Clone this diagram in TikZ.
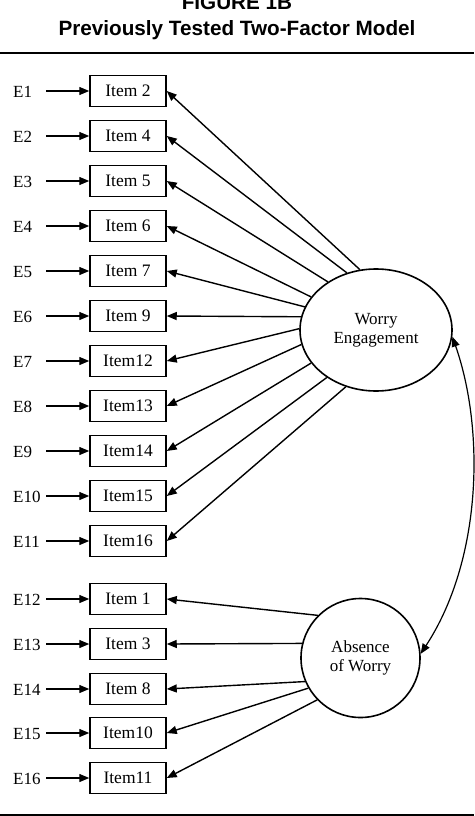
\documentclass[tikz,border=0pt]{standalone}
\usepackage{fontspec}
\setmainfont{Liberation Serif}
\newfontfamily\headfont{Liberation Sans}
\usepgflibrary{arrows.meta}
\usetikzlibrary{shapes.geometric}

\begin{document}
\begin{tikzpicture}[x=1pt,y=-1pt,
        path arrow/.style={
        arrows = {-Triangle[length=10pt,width=8pt]},
        line width=1.4pt
        },
        cov arrow/.style={
        arrows = {Triangle[length=10pt,width=8pt]-Triangle[length=10pt,width=8pt]},
        line width=1.2pt
        },
        item/.style={
                draw,
                line width=1.5pt,
                minimum width=76pt,
                minimum height=31pt,
                inner sep=0pt,
                font=\fontsize{17.5}{20}\selectfont
            },
        err/.style={
                anchor=west,
                inner sep=0pt,
                font=\fontsize{17}{20}\selectfont
            },
        factor/.style={
                draw,
                ellipse,
                line width=1.6pt,
                inner sep=0pt,
                align=center,
                font=\fontsize{17}{19}\selectfont
            }]
        \useasboundingbox (0,0) rectangle (474,816);

        % heading
        \node [anchor=base, font=\headfont\bfseries\fontsize{20.7}{24}\selectfont] (fig) at (237,10) {FIGURE 1B};
        \node [anchor=base, font=\headfont\bfseries\fontsize{20.7}{24}\selectfont] (title) at (237,36) {Previously Tested Two-Factor Model};
        \draw [line width=2.5pt] (0,53) -- (474,53);
        \draw [line width=3pt] (0,815) -- (474,815);

        % observed items
        \node [item] (i2) at (128,91) {Item 2};
        \node [item] (i4) at (128,136) {Item 4};
        \node [item] (i5) at (128,181) {Item 5};
        \node [item] (i6) at (128,226) {Item 6};
        \node [item] (i7) at (128,271) {Item 7};
        \node [item] (i9) at (128,316) {Item 9};
        \node [item] (i12) at (128,361) {Item12};
        \node [item] (i13) at (128,406) {Item13};
        \node [item] (i14) at (128,451) {Item14};
        \node [item] (i15) at (128,496) {Item15};
        \node [item] (i16) at (128,541) {Item16};
        \node [item] (i1) at (128,599) {Item 1};
        \node [item] (i3) at (128,644) {Item 3};
        \node [item] (i8) at (128,689) {Item 8};
        \node [item] (i10) at (128,733) {Item10};
        \node [item] (i11) at (128,778) {Item11};

        % error terms
        \node [err] (e1) at (13,92) {E1};
        \node [err] (e2) at (13,137) {E2};
        \node [err] (e3) at (13,182) {E3};
        \node [err] (e4) at (13,227) {E4};
        \node [err] (e5) at (13,272) {E5};
        \node [err] (e6) at (13,317) {E6};
        \node [err] (e7) at (13,362) {E7};
        \node [err] (e8) at (13,407) {E8};
        \node [err] (e9) at (13,452) {E9};
        \node [err] (e10) at (13,497) {E10};
        \node [err] (e11) at (13,542) {E11};
        \node [err] (e12) at (13,600) {E12};
        \node [err] (e13) at (13,645) {E13};
        \node [err] (e14) at (13,690) {E14};
        \node [err] (e15) at (13,734) {E15};
        \node [err] (e16) at (13,779) {E16};

        \coordinate (s1) at (46,91);
        \coordinate (s2) at (46,136);
        \coordinate (s3) at (46,181);
        \coordinate (s4) at (46,226);
        \coordinate (s5) at (46,271);
        \coordinate (s6) at (46,316);
        \coordinate (s7) at (46,361);
        \coordinate (s8) at (46,406);
        \coordinate (s9) at (46,451);
        \coordinate (s10) at (46,496);
        \coordinate (s11) at (46,541);
        \coordinate (s12) at (46,599);
        \coordinate (s13) at (46,644);
        \coordinate (s14) at (46,689);
        \coordinate (s15) at (46,733);
        \coordinate (s16) at (46,778);

        \draw [path arrow] (s1) -- (i2.west);
        \draw [path arrow] (s2) -- (i4.west);
        \draw [path arrow] (s3) -- (i5.west);
        \draw [path arrow] (s4) -- (i6.west);
        \draw [path arrow] (s5) -- (i7.west);
        \draw [path arrow] (s6) -- (i9.west);
        \draw [path arrow] (s7) -- (i12.west);
        \draw [path arrow] (s8) -- (i13.west);
        \draw [path arrow] (s9) -- (i14.west);
        \draw [path arrow] (s10) -- (i15.west);
        \draw [path arrow] (s11) -- (i16.west);
        \draw [path arrow] (s12) -- (i1.west);
        \draw [path arrow] (s13) -- (i3.west);
        \draw [path arrow] (s14) -- (i8.west);
        \draw [path arrow] (s15) -- (i10.west);
        \draw [path arrow] (s16) -- (i11.west);

        % factors
        \node [factor, minimum width=152pt, minimum height=122pt] (we) at (376,330) {Worry\\Engagement};
        \node [factor, circle, minimum size=119pt] (aw) at (360.5,658) {Absence\\of Worry};

        \draw [path arrow] (we.105) -- (i2.east);
        \draw [path arrow] (we.117) -- (i4.east);
        \draw [path arrow] (we.135) -- (i5.east);
        \draw [path arrow] (we.153) -- (i6.east);
        \draw [path arrow] (we.162) -- (i7.east);
        \draw [path arrow] (we.170) -- (i9.east);
        \draw [path arrow] (we.179) -- (i12.east);
        \draw [path arrow] (we.191) -- (i13.east);
        \draw [path arrow] (we.207) -- (i14.east);
        \draw [path arrow] (we.224) -- (i15.east);
        \draw [path arrow] (we.242) -- (i16.east);

        \draw [path arrow] (aw.135) -- (i1.east);
        \draw [path arrow] (aw.166) -- (i3.east);
        \draw [path arrow] (aw.203) -- (i8.east);
        \draw [path arrow] (aw.210) -- (i10.east);
        \draw [path arrow] (aw.224) -- (i11.east);

        \draw [cov arrow] (we.-5) .. controls (485,430) and (482,560) .. (aw.4);
    \end{tikzpicture}
\end{document}
